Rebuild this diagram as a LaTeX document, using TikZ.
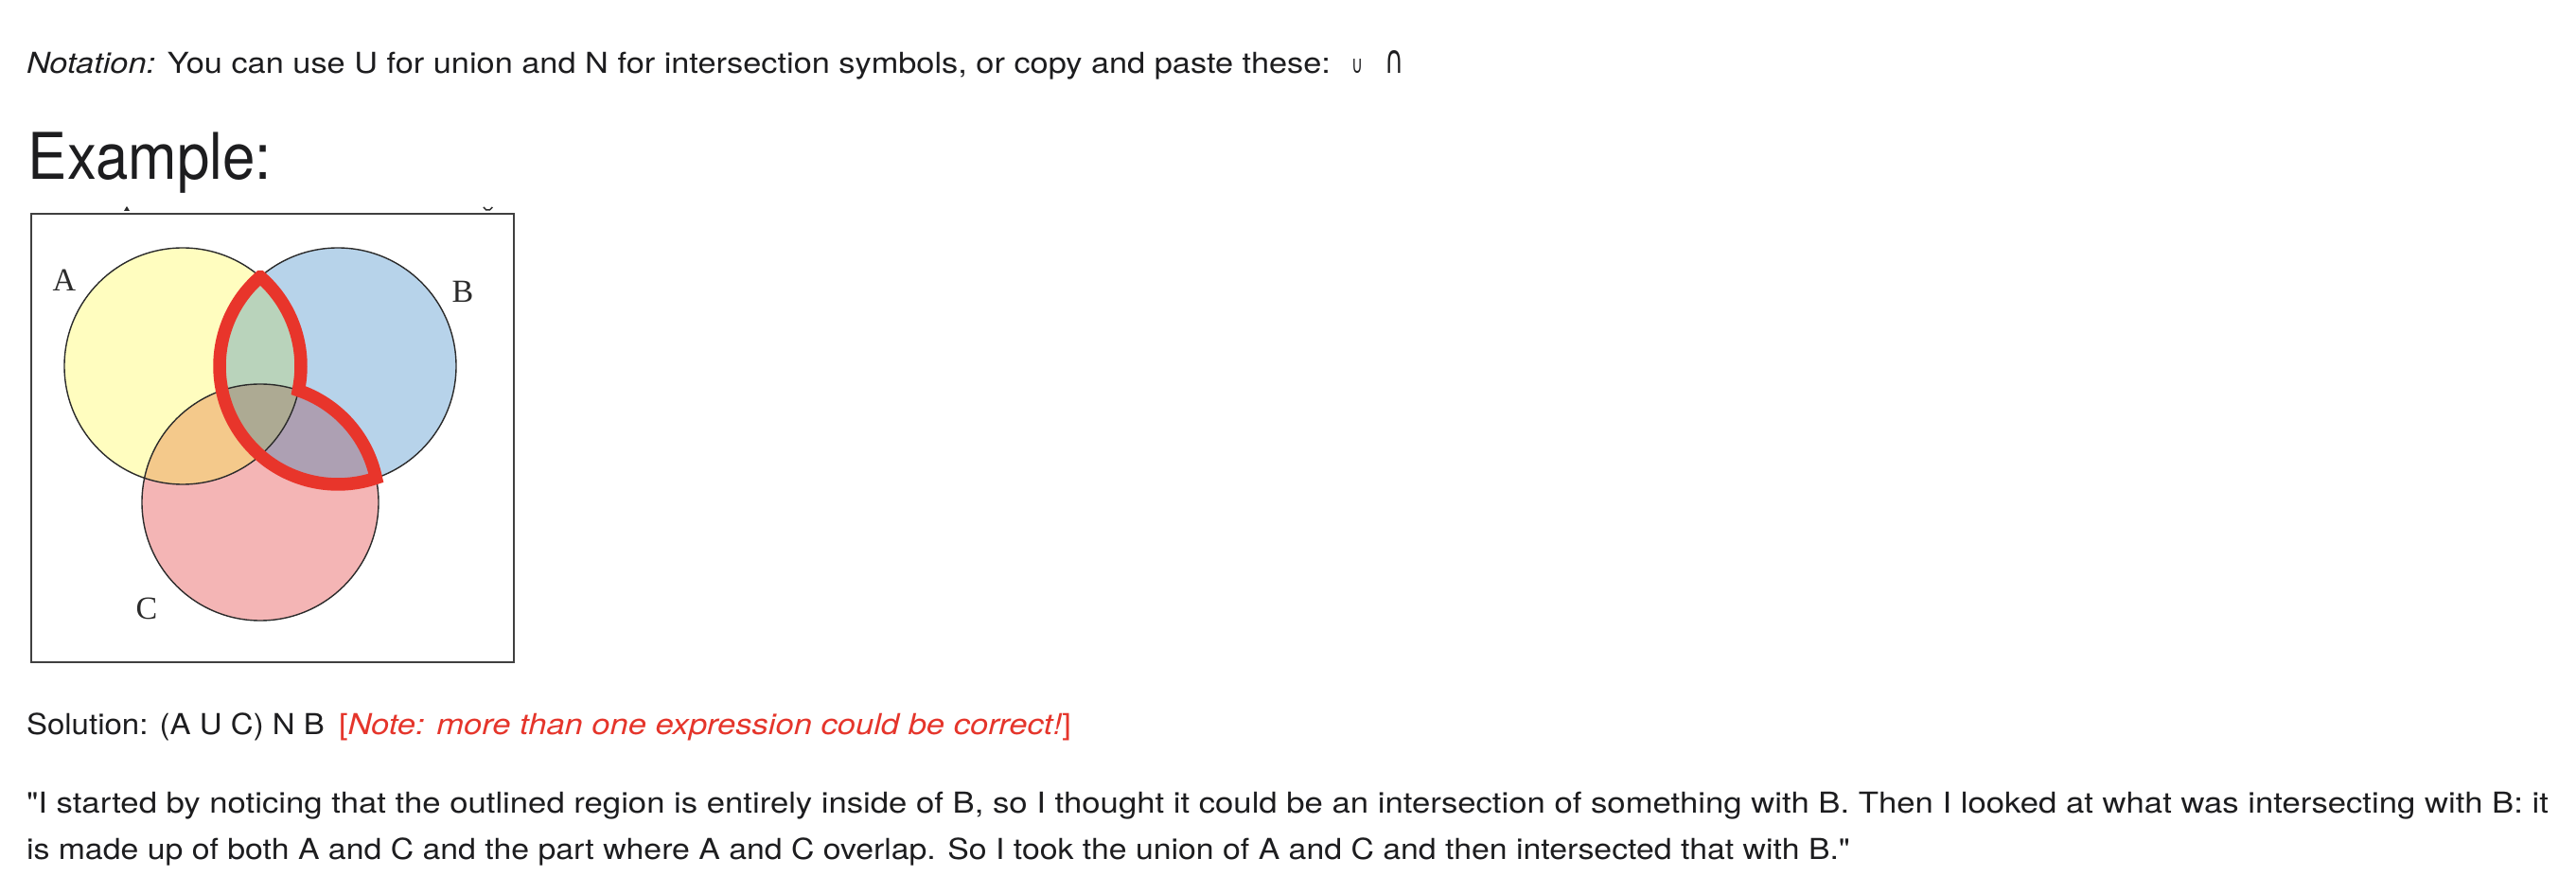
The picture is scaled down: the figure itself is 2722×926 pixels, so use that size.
\documentclass[tikz,border=0pt]{standalone}
\usepackage{fontspec}
\usepackage{graphicx}
\setmainfont{TeX Gyre Heros}
\newfontfamily\labfont{Liberation Serif}
\newfontfamily\symfont{DejaVu Sans}
\font\qf="[texgyreheros-regular.otf]" at 30.5pt
\definecolor{txt}{HTML}{1D1D1F}
\definecolor{notered}{HTML}{E5352B}
\definecolor{outred}{HTML}{E8352B}
\definecolor{fillA}{HTML}{FFFDBF}
\definecolor{fillB}{HTML}{B7D3EA}
\definecolor{fillC}{HTML}{F4B5B5}
\definecolor{fillAB}{HTML}{B9D3BB}
\definecolor{fillAC}{HTML}{F4C98B}
\definecolor{fillBC}{HTML}{ADA0B3}
\definecolor{fillABC}{HTML}{ADAA93}
\definecolor{edge}{HTML}{2B2B2B}
\newsavebox\fitbox
\newcommand\fitto[2]{\sbox\fitbox{#2}\pgfmathsetmacro\fitratio{#1/\the\wd\fitbox}\scalebox{\fitratio}[1]{\usebox\fitbox}}
\newcommand\dq{{\qf\symbol{34}}}
\tikzset{
  body/.style={anchor=base west, inner sep=0pt, outer sep=0pt, text=txt},
  lab/.style={anchor=base, inner sep=0pt, text=edge, font=\labfont\fontsize{34}{36}\selectfont},
  venn/.style={draw=edge, line width=1.4pt},
  redline/.style={draw=outred, line width=13.5pt, line join=miter, miter limit=20},
  boxline/.style={draw=edge!90, line width=2pt}
}
\begin{document}
\begin{tikzpicture}[x=1pt,y=1pt]
\useasboundingbox (0,0) rectangle (2722,926);
\fill[white] (0,0) rectangle (2722,926);

% texts
\node[body] (notation) at (28,848) {\fitto{1378}{\fontsize{30.5}{35}\selectfont\textit{Notation:} You can use U for union and N for intersection symbols, or copy and paste these:}};
\node[anchor=base, inner sep=0pt, text=txt] (cup) at (1434,848) {\resizebox{12pt}{15pt}{\symfont ∪}};
\node[anchor=base, inner sep=0pt, text=txt] (cap) at (1473,848) {\resizebox{20pt}{24pt}{\symfont ∩}};
\node[body] (example) at (30,736) {\fitto{257}{\fontsize{68}{70}\selectfont Example:}};
\node[body] (solution) at (28,149) {\fitto{315}{\fontsize{30.5}{35}\selectfont Solution: (A U C) N B}};
\node[body, text=notered] (note) at (358,149) {\fitto{774}{\fontsize{30.5}{35}\selectfont [\textit{Note: more than one expression could be correct!}]}};
\node[body] (quote1) at (28,66) {\fitto{2665}{\fontsize{30.5}{35}\selectfont \dq I started by noticing that the outlined region is entirely inside of B, so I thought it could be an intersection of something with B. Then I looked at what was intersecting with B: it}};
\node[body] (quote2) at (28,17) {\fitto{1927}{\fontsize{30.5}{35}\selectfont is made up of both A and C and the part where A and C overlap. So I took the union of A and C and then intersected that with B.\dq}};

% venn diagram
\coordinate (cA) at (193,539);
\coordinate (cB) at (357,539);
\coordinate (cC) at (275,395);
\coordinate (P1) at (275,633.35);

\fill[fillA] (cA) circle[radius=125];
\fill[fillB] (cB) circle[radius=125];
\fill[fillC] (cC) circle[radius=125];
\begin{scope}
  \clip (cB) circle[radius=125];
  \fill[fillBC] (cC) circle[radius=125];
\end{scope}
\begin{scope}
  \clip (cA) circle[radius=125];
  \fill[fillAB] (cB) circle[radius=125];
  \fill[fillAC] (cC) circle[radius=125];
  \clip (cB) circle[radius=125];
  \fill[fillABC] (cC) circle[radius=125];
\end{scope}
\draw[venn] (cA) circle[radius=125];
\draw[venn] (cB) circle[radius=125];
\draw[venn] (cC) circle[radius=125];

\draw[redline] (P1) arc[start angle=131.0, end angle=288.82, radius=125]
  arc[start angle=11.86, end angle=71.18, radius=125]
  arc[start angle=-11.86, end angle=49.0, radius=125] -- cycle;

\draw[boxline] (33,226) rectangle (543,700);

\node[lab] (labA) at (68,618) {A};
\node[lab] (labB) at (489,606) {B};
\node[lab] (labC) at (155,271) {C};

% cut-off marks above the box
\fill[edge] (131,703) -- (134,708) -- (137,703) -- cycle;
\draw[edge, line width=1.5pt] (511,707) arc[start angle=200, end angle=340, radius=5];
\end{tikzpicture}
\end{document}
